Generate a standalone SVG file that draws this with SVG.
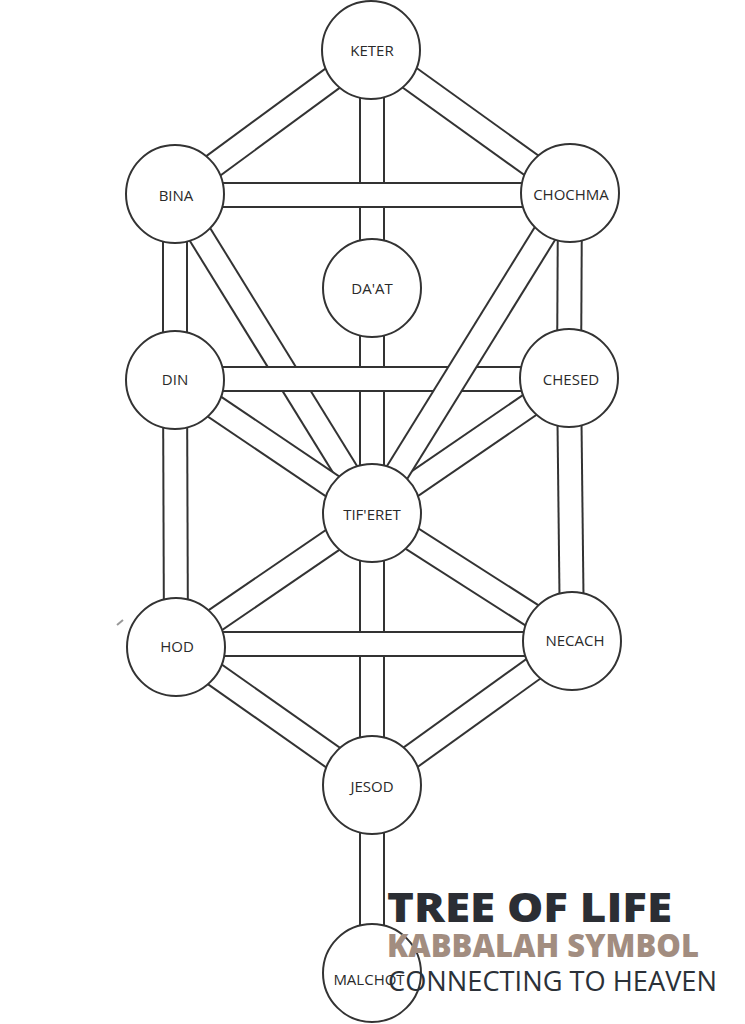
<svg xmlns="http://www.w3.org/2000/svg" width="745" height="1024" viewBox="0 0 745 1024">
<style>
.o{stroke:#333;stroke-width:26;fill:none}
.i{stroke:#fff;stroke-width:22;fill:none}
.n circle{fill:#fff;stroke:#333;stroke-width:2}
.n text{font-family:"Open Sans","Liberation Sans",sans-serif;font-size:15px;fill:#2a2a2a;text-anchor:middle}
.t{font-family:"Open Sans","Liberation Sans",sans-serif}
</style>
<rect width="745" height="1024" fill="#fff"/>
<g id="connectors">
  <g><line class="o" x1="372" y1="50" x2="372" y2="973"/><line class="i" x1="372" y1="50" x2="372" y2="973"/></g>
  <g><line class="o" x1="175" y1="194" x2="175" y2="380"/><line class="i" x1="175" y1="194" x2="175" y2="380"/></g>
  <g><line class="o" x1="175" y1="380" x2="176" y2="647"/><line class="i" x1="175" y1="380" x2="176" y2="647"/></g>
  <g><line class="o" x1="570" y1="193" x2="569" y2="378"/><line class="i" x1="570" y1="193" x2="569" y2="378"/></g>
  <g><line class="o" x1="569" y1="378" x2="572" y2="641"/><line class="i" x1="569" y1="378" x2="572" y2="641"/></g>
  <g><line class="o" x1="371" y1="50" x2="175" y2="194"/><line class="i" x1="371" y1="50" x2="175" y2="194"/></g>
  <g><line class="o" x1="371" y1="50" x2="570" y2="193"/><line class="i" x1="371" y1="50" x2="570" y2="193"/></g>
  <g><line class="o" x1="175" y1="194" x2="372" y2="513"/><line class="i" x1="175" y1="194" x2="372" y2="513"/></g>
  <g><line class="o" x1="175" y1="380" x2="372" y2="513"/><line class="i" x1="175" y1="380" x2="372" y2="513"/></g>
  <g><line class="o" x1="569" y1="378" x2="372" y2="513"/><line class="i" x1="569" y1="378" x2="372" y2="513"/></g>
  <g><line class="o" x1="372" y1="513" x2="176" y2="647"/><line class="i" x1="372" y1="513" x2="176" y2="647"/></g>
  <g><line class="o" x1="372" y1="513" x2="572" y2="641"/><line class="i" x1="372" y1="513" x2="572" y2="641"/></g>
  <g><line class="o" x1="176" y1="647" x2="372" y2="785"/><line class="i" x1="176" y1="647" x2="372" y2="785"/></g>
  <g><line class="o" x1="572" y1="641" x2="372" y2="785"/><line class="i" x1="572" y1="641" x2="372" y2="785"/></g>
  <g><line class="o" x1="175" y1="195" x2="570" y2="195"/><line class="i" x1="175" y1="195" x2="570" y2="195"/></g>
  <g><line class="o" x1="175" y1="379" x2="569" y2="379"/><line class="i" x1="175" y1="379" x2="569" y2="379"/></g>
  <g><line class="o" x1="176" y1="644" x2="572" y2="644"/><line class="i" x1="176" y1="644" x2="572" y2="644"/></g>
  <g><line class="o" x1="570" y1="193" x2="372" y2="513"/><line class="i" x1="570" y1="193" x2="372" y2="513"/></g>
</g>
<g id="keter" class="n"><circle cx="371" cy="50" r="49"/><text x="372" y="56">KETER</text></g>
<g id="bina" class="n"><circle cx="175" cy="194" r="49"/><text x="176" y="201">BINA</text></g>
<g id="chochma" class="n"><circle cx="570" cy="193" r="49"/><text x="571" y="200">CHOCHMA</text></g>
<g id="daat" class="n"><circle cx="372" cy="288" r="49"/><text x="372" y="294">DA'AT</text></g>
<g id="din" class="n"><circle cx="175" cy="380" r="49"/><text x="175" y="385">DIN</text></g>
<g id="chesed" class="n"><circle cx="569" cy="378" r="49"/><text x="571" y="385">CHESED</text></g>
<g id="tiferet" class="n"><circle cx="372" cy="513" r="49"/><text x="372" y="520">TIF'ERET</text></g>
<g id="hod" class="n"><circle cx="176" cy="647" r="49"/><text x="177" y="652">HOD</text></g>
<g id="necach" class="n"><circle cx="572" cy="641" r="49"/><text x="575" y="646">NECACH</text></g>
<g id="jesod" class="n"><circle cx="372" cy="785" r="49"/><text x="372" y="792">JESOD</text></g>
<g id="malchot" class="n"><circle cx="372" cy="973" r="49"/><text x="369" y="985">MALCHOT</text></g>
<line x1="117" y1="625" x2="123" y2="620" stroke="#999" stroke-width="2"/>
<g id="title">
  <text class="t" x="387" y="922" font-size="40" font-weight="800" fill="#2b2e34" textLength="285" lengthAdjust="spacingAndGlyphs">TREE OF LIFE</text>
  <text class="t" x="387" y="957" font-size="31" font-weight="800" fill="#a28d80" textLength="312" lengthAdjust="spacingAndGlyphs">KABBALAH SYMBOL</text>
  <text class="t" x="388" y="991" font-size="27" font-weight="400" fill="#2b3138" textLength="329" lengthAdjust="spacingAndGlyphs">CONNECTING TO HEAVEN</text>
</g>
</svg>
